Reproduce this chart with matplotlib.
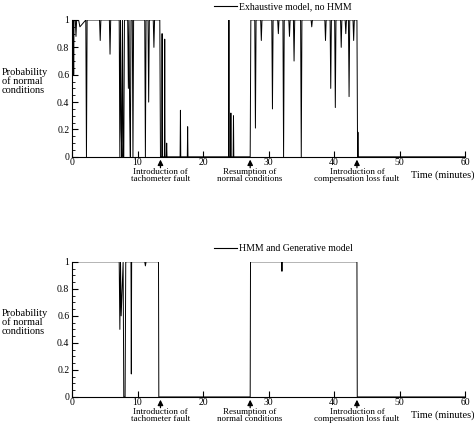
import matplotlib.pyplot as plt

plt.rcParams['font.family'] = ['Liberation Serif', 'DejaVu Serif']

# top panel: exhaustive model, no HMM
t_top = [0, 0.2, 0.25, 0.3, 0.5, 0.6, 0.7, 1.0, 1.2, 2.1, 2.2, 2.3, 4.2, 4.3, 4.4, 5.7, 5.8, 5.9,
         7.2, 7.3, 7.4, 7.5, 7.6, 7.7, 7.8, 7.9, 8.0, 8.5, 8.6, 8.7, 8.8, 8.9, 9.0, 9.2, 9.3, 9.4,
         11.1, 11.2, 11.3, 11.6, 11.7, 11.8, 12.4, 12.5, 12.6, 13.4, 13.5,
         13.7, 13.75, 13.8, 14.1, 14.15, 14.2, 14.4, 14.45, 14.5, 16.5, 16.55, 16.6, 17.6, 17.65, 17.7,
         23.9, 23.95, 24.0, 24.2, 24.25, 24.3, 24.6, 24.65, 24.7, 27.2,
         27.3, 27.9, 28.0, 28.1, 28.8, 28.9, 29.0, 30.5, 30.6, 30.7, 31.4, 31.5, 31.6, 32.2, 32.3, 32.4,
         33.1, 33.2, 33.3, 33.8, 33.9, 34.0, 34.9, 35.0, 35.1, 36.5, 36.6, 36.7, 38.6, 38.7, 38.8,
         39.4, 39.5, 39.6, 40.1, 40.2, 40.3, 41.0, 41.1, 41.2, 41.7, 41.8, 41.9, 42.2, 42.3, 42.4,
         42.9, 43.0, 43.1, 43.5, 43.6, 43.65, 43.7, 60]
p_top = [1, 1, 0.6, 1, 1, 0.88, 1, 1, 0.95, 1, 0, 1, 1, 0.85, 1, 1, 0.75, 1,
         1, 0, 1, 0.2, 0, 1, 0, 0, 1, 1, 0.5, 1, 0.3, 0, 1, 1, 0, 1,
         1, 0, 1, 1, 0.4, 1, 1, 0.8, 1, 1, 0,
         0, 0.9, 0, 0, 0.86, 0, 0, 0.1, 0, 0, 0.34, 0, 0, 0.22, 0,
         0, 1, 0, 0, 0.32, 0, 0, 0.3, 0, 0,
         1, 1, 0.21, 1, 1, 0.85, 1, 1, 0.35, 1, 1, 0.9, 1, 1, 0, 1,
         1, 0.88, 1, 1, 0.7, 1, 1, 0, 1, 1, 0.95, 1, 1, 0.85, 1,
         1, 0.5, 1, 1, 0.36, 1, 1, 0.8, 1, 1, 0.9, 1, 1, 0.44, 1,
         1, 0.85, 1, 1, 0, 0.18, 0, 0]

# bottom panel: HMM and generative model
t_bot = [0, 7.2, 7.3, 7.4, 7.5, 7.8, 7.9, 8.1, 8.2, 8.3, 9.0, 9.05, 9.1, 11.1, 11.2, 11.3, 13.2, 13.25,
         27.2, 27.25, 32.0, 32.05, 32.1, 43.5, 43.55, 60]
p_bot = [1, 1, 0.5, 1, 0.6, 1, 0, 0, 1, 1, 1, 0.17, 1, 1, 0.97, 1, 1, 0,
         0, 1, 1, 0.93, 1, 1, 0, 0]

legend_top = 'Exhaustive model, no HMM'
legend_bot = 'HMM and Generative model'
event_t = [13.5, 27.2, 43.5]
event_labels = ['Introduction of\ntachometer fault', 'Resumption of\nnormal conditions',
                'Introduction of\ncompensation loss fault']

fig = plt.figure(figsize=(4.74, 4.25), dpi=100)
ax1 = fig.add_axes([0.152, 0.631, 0.829, 0.322])
ax2 = fig.add_axes([0.152, 0.066, 0.829, 0.318])

for ax, t, p, lab in [(ax1, t_top, p_top, legend_top), (ax2, t_bot, p_bot, legend_bot)]:
    ax.plot(t, p, color='black', lw=0.7)
    ax.set_xlim(0, 60)
    ax.set_ylim(0, 1.0)
    for s in ['top', 'right']:
        ax.spines[s].set_visible(False)
    ax.spines['left'].set_linewidth(0.8)
    ax.spines['bottom'].set_linewidth(0.8)
    ax.set_xticks(range(0, 61, 10))
    ax.set_yticks([0, 0.2, 0.4, 0.6, 0.8, 1])
    ax.set_yticklabels(['0', '0.2', '0.4', '0.6', '0.8', '1'])
    ax.set_yticks([i / 20 for i in range(21)], minor=True)
    ax.tick_params(direction='in', labelsize=7, length=4, pad=2)
    ax.tick_params(which='minor', direction='in', length=2)
    ax.tick_params(axis='x', pad=1)
    ax.text(-0.178, 0.55, 'Probability\nof normal\nconditions', transform=ax.transAxes,
            fontsize=7.5, ha='left', va='center', linespacing=1.0)
    ax.text(61.5, -0.1, 'Time (minutes)', fontsize=7.5, ha='right', va='top')
    for et, el in zip(event_t, event_labels):
        ax.annotate('', xy=(et, 0), xytext=(et, -0.1),
                    arrowprops=dict(arrowstyle='-|>', color='black', lw=0.9, mutation_scale=8),
                    annotation_clip=False)
        ax.text(et, -0.08, el, fontsize=6.5, ha='center', va='top', linespacing=0.95)
    ax.plot([0.36, 0.42], [1.1, 1.1], color='black', lw=0.8, transform=ax.transAxes, clip_on=False)
    ax.text(0.425, 1.1, lab, transform=ax.transAxes, fontsize=7, ha='left', va='center')

fig.savefig('out.png', dpi=100)
